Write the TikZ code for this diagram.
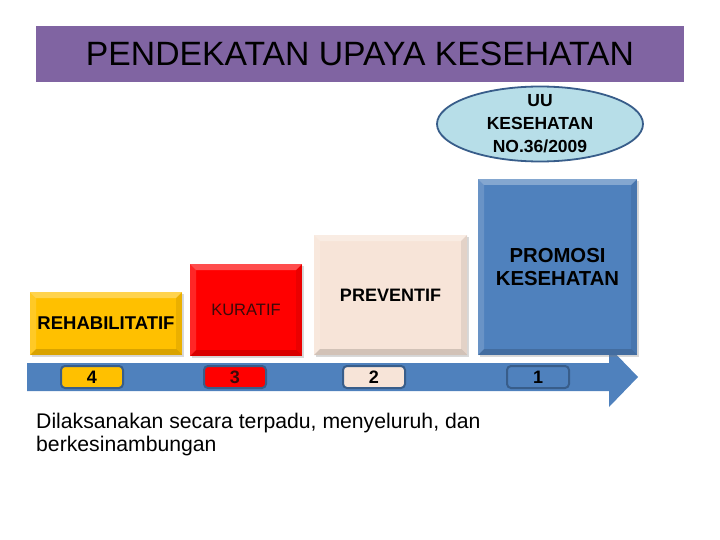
\documentclass[tikz,border=0pt]{standalone}
\usepackage{fontspec}
\setmainfont{Liberation Sans}
\usetikzlibrary{shapes.geometric,shadows}
\definecolor{titlepurple}{HTML}{8064A2}
\definecolor{gold}{HTML}{FFC000}
\definecolor{redbox}{HTML}{FF0000}
\definecolor{peach}{HTML}{F7E4D8}
\definecolor{bluebox}{HTML}{4F81BD}
\definecolor{darkblue}{HTML}{385D8A}
\definecolor{ellfill}{HTML}{B7DEE8}
\definecolor{kurtext}{HTML}{3A0A0A}
\tikzset{
  bevel/.style={path picture={
    \fill[white,opacity=.3] (path picture bounding box.north west) -- (path picture bounding box.north east) -- ([shift={(-6pt,-6pt)}]path picture bounding box.north east) -- ([shift={(6pt,-6pt)}]path picture bounding box.north west) -- cycle;
    \fill[white,opacity=.15] (path picture bounding box.north west) -- (path picture bounding box.south west) -- ([shift={(6pt,6pt)}]path picture bounding box.south west) -- ([shift={(6pt,-6pt)}]path picture bounding box.north west) -- cycle;
    \fill[black,opacity=.15] (path picture bounding box.south west) -- (path picture bounding box.south east) -- ([shift={(-6pt,6pt)}]path picture bounding box.south east) -- ([shift={(6pt,6pt)}]path picture bounding box.south west) -- cycle;
    \fill[black,opacity=.08] (path picture bounding box.north east) -- (path picture bounding box.south east) -- ([shift={(-6pt,6pt)}]path picture bounding box.south east) -- ([shift={(-6pt,-6pt)}]path picture bounding box.north east) -- cycle;
  }},
  stage/.style={rectangle, bevel, inner sep=0pt, align=center,
    drop shadow={opacity=.3, shadow xshift=2pt, shadow yshift=-2pt}},
  numbox/.style={rectangle, rounded corners=4pt, draw=darkblue, line width=2pt,
    minimum width=62pt, minimum height=22pt, inner sep=0pt, font=\fontsize{18}{20}\selectfont\bfseries},
}
\begin{document}
\begin{tikzpicture}[x=1pt,y=-1pt]
\useasboundingbox (0,0) rectangle (720,540);
% title
\node[rectangle, fill=titlepurple, minimum width=648pt, minimum height=56pt, inner sep=0pt,
  font=\fontsize{33.7}{38}\selectfont] (title) at (360,54) {PENDEKATAN UPAYA KESEHATAN};
% arrow
\fill[bluebox] (27,363) -- (609,363) -- (609,347) -- (638,377) -- (609,407) -- (609,391) -- (27,391) -- cycle;
% stage boxes
\node[stage, fill=gold, minimum width=152pt, minimum height=63pt,
  font=\fontsize{18.5}{21}\selectfont\bfseries] (rehab) at (106,323.5) {REHABILITATIF};
\node[stage, fill=redbox, minimum width=112pt, minimum height=92pt, text=kurtext,
  font=\fontsize{16.5}{19}\selectfont] (kur) at (246,310) {KURATIF};
\node[stage, fill=peach, minimum width=153pt, minimum height=120pt,
  font=\fontsize{18}{21}\selectfont\bfseries] (prev) at (390.5,295) {PREVENTIF};
\node[stage, fill=bluebox, minimum width=159pt, minimum height=176pt,
  font=\fontsize{20.3}{23}\selectfont\bfseries] (prom) at (557.5,267) {PROMOSI\\KESEHATAN};
% ellipse
\node[ellipse, draw=darkblue, line width=1.8pt, fill=ellfill, minimum width=206pt, minimum height=75pt,
  inner xsep=0pt, inner ysep=-10pt, align=center, font=\fontsize{17.5}{23}\selectfont\bfseries] (uu) at (540,124) {UU\\KESEHATAN\\NO.36/2009};
% number boxes
\node[numbox, fill=gold] (n4) at (92,377) {4};
\node[numbox, fill=redbox, text=kurtext] (n3) at (235,377) {3};
\node[numbox, fill=peach] (n2) at (374,377) {2};
\node[numbox, fill=bluebox] (n1) at (538,377) {1};
% bottom text
\node[anchor=north west, inner sep=0pt, align=left, font=\fontsize{21.2}{23}\selectfont] (note) at (36,413)
  {Dilaksanakan secara terpadu, menyeluruh, dan\\berkesinambungan};
\end{tikzpicture}
\end{document}
